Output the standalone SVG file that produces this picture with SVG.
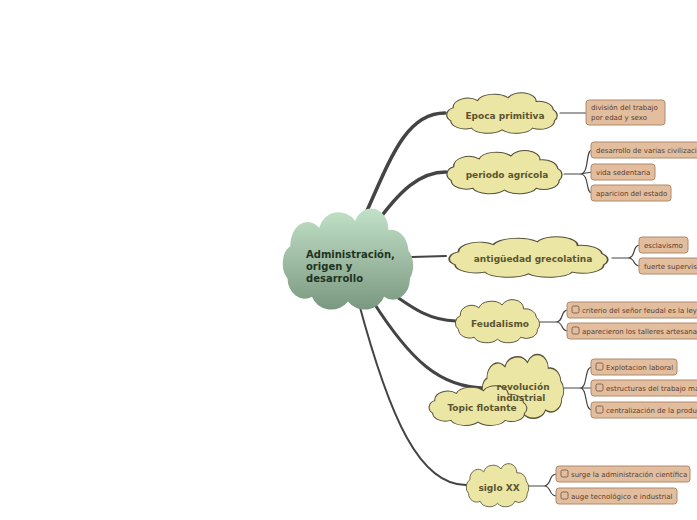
<svg xmlns="http://www.w3.org/2000/svg" xmlns:xlink="http://www.w3.org/1999/xlink" width="697" height="520" viewBox="0 0 697 520">
<defs>
<linearGradient id="g" x1="0" y1="0" x2="0" y2="1"><stop offset="0" stop-color="#c2e2c8"/><stop offset="1" stop-color="#7a9880"/></linearGradient>
<path id="cloud" d="M10,14 A12,10 0 0 1 30,6 A14,9 0 0 1 55,3 A12,9 0 0 1 78,7 A12,10 0 0 1 92,16 A8,8 0 0 1 93,28 A12,9 0 0 1 75,36 A14,8 0 0 1 50,38 A14,8 0 0 1 25,36 A12,9 0 0 1 8,28 A8,8 0 0 1 10,14 Z"/>
</defs>
<style>
.n{fill:#ece6a4;stroke:#55503a;stroke-width:1}
.c{fill:url(#g);stroke:none}
.t{font-family:"DejaVu Sans",sans-serif;font-weight:bold;font-size:9px;fill:#5a5530;text-anchor:middle}
.ct{font-family:"DejaVu Sans",sans-serif;font-weight:bold;font-size:10px;fill:#1f3322}
.l{fill:#e2bd9e;stroke:#b08a6a;stroke-width:1}
.lt{font-family:"DejaVu Sans",sans-serif;font-size:7px;fill:#5a4030}
.cb{fill:none;stroke:#6a5040;stroke-width:0.8}
.e{fill:none;stroke:#444;stroke-linecap:round}
</style>
<rect width="697" height="520" fill="#fff"/>
<g id="connectors">
<path class="e" stroke-width="3.5" d="M362,222 C390,160 405,113 445,113"/>
<path class="e" stroke-width="3.5" d="M375,225 C400,190 420,172 446,172"/>
<path class="e" stroke-width="2" d="M412,257 L446,256"/>
<path class="e" stroke-width="3" d="M390,292 C415,310 430,320 456,321"/>
<path class="e" stroke-width="3" d="M372,300 C410,360 440,388 486,388"/>
<path class="e" stroke-width="2" d="M358,300 C390,420 420,485 466,485"/>
<g stroke-width="1.2">
<path class="e" d="M560,113 L586,113"/>
<path class="e" d="M564,174 L580,174 C590,174 585,150 592,150 M580,174 L592,172 M580,174 C590,174 585,193 592,193"/>
<path class="e" d="M612,258 L628,258 C636,258 632,245 640,245 M628,258 C636,258 632,266 640,266"/>
<path class="e" d="M540,322 L556,322 C564,322 560,310 568,310 M556,322 C564,322 560,331 568,331"/>
<path class="e" d="M564,388 L580,388 C588,388 584,367 592,367 M580,388 L592,388 M580,388 C588,388 584,410 592,410"/>
<path class="e" d="M528,486 L544,486 C552,486 548,474 557,474 M544,486 C552,486 548,496 557,496"/>
</g>
</g>
<g id="center"><use href="#cloud" class="c" transform="translate(276,214) scale(1.44,2.3)"/>
<text class="ct" x="306" y="258">Administración,</text><text class="ct" x="306" y="270">origen y</text><text class="ct" x="306" y="282">desarrollo</text></g>
<g id="n1"><use href="#cloud" class="n" transform="translate(441,95) scale(1.22,0.92)"/><text class="t" x="505" y="119">Epoca primitiva</text></g>
<g id="n2"><use href="#cloud" class="n" transform="translate(441,153) scale(1.27,0.98)"/><text class="t" x="507" y="178">periodo agrícola</text></g>
<g id="n3"><use href="#cloud" class="n" transform="translate(441,239) scale(1.75,0.92)"/><text class="t" x="533" y="262">antigüedad grecolatina</text></g>
<g id="n4"><use href="#cloud" class="n" transform="translate(451,302) scale(0.93,0.98)"/><text class="t" x="500" y="327">Feudalismo</text></g>
<g id="n5"><use href="#cloud" class="n" transform="translate(478,358) scale(0.9,1.45)"/></g>
<g id="n6"><use href="#cloud" class="n" transform="translate(424,388) scale(1.08,0.9)"/><text class="t" x="482" y="411">Topic flotante</text></g>
<g id="n5-label"><text class="t" x="523" y="390">revolución</text><text class="t" x="521" y="401">industrial</text></g>
<g id="n7"><use href="#cloud" class="n" transform="translate(463,466) scale(0.69,0.98)"/><text class="t" x="499" y="491">siglo XX</text></g>
<g id="leaves">
<g><rect class="l" x="586" y="100" width="79" height="25" rx="3"/><text class="lt" x="591" y="110">división del trabajo</text><text class="lt" x="591" y="120">por edad y sexo</text></g>
<g><rect class="l" x="591" y="142" width="120" height="16" rx="3"/><text class="lt" x="596" y="153">desarrollo de varias civilizaciones</text></g>
<g><rect class="l" x="591" y="164" width="64" height="16" rx="3"/><text class="lt" x="596" y="175">vida sedentaria</text></g>
<g><rect class="l" x="591" y="185" width="80" height="16" rx="3"/><text class="lt" x="596" y="196">aparicion del estado</text></g>
<g><rect class="l" x="639" y="237" width="49" height="16" rx="3"/><text class="lt" x="644" y="248">esclavismo</text></g>
<g><rect class="l" x="639" y="258" width="80" height="16" rx="3"/><text class="lt" x="644" y="269">fuerte supervisión</text></g>
<g><rect class="l" x="567" y="302" width="140" height="16" rx="3"/><rect class="cb" x="572" y="306" width="7" height="7" rx="1.5"/><text class="lt" x="582" y="313">criterio del señor feudal es la ley</text></g>
<g><rect class="l" x="567" y="323" width="140" height="16" rx="3"/><rect class="cb" x="572" y="327" width="7" height="7" rx="1.5"/><text class="lt" x="582" y="334">aparecieron los talleres artesanales</text></g>
<g><rect class="l" x="591" y="359" width="86" height="16" rx="3"/><rect class="cb" x="596" y="363" width="7" height="7" rx="1.5"/><text class="lt" x="606" y="370">Explotacion laboral</text></g>
<g><rect class="l" x="591" y="380" width="120" height="16" rx="3"/><rect class="cb" x="596" y="384" width="7" height="7" rx="1.5"/><text class="lt" x="606" y="391">estructuras del trabajo manual</text></g>
<g><rect class="l" x="591" y="402" width="120" height="16" rx="3"/><rect class="cb" x="596" y="406" width="7" height="7" rx="1.5"/><text class="lt" x="606" y="413">centralización de la producción</text></g>
<g><rect class="l" x="556" y="466" width="134" height="16" rx="3"/><rect class="cb" x="561" y="470" width="7" height="7" rx="1.5"/><text class="lt" x="571" y="477">surge la administración científica</text></g>
<g><rect class="l" x="556" y="488" width="121" height="16" rx="3"/><rect class="cb" x="561" y="492" width="7" height="7" rx="1.5"/><text class="lt" x="571" y="499">auge tecnológico e industrial</text></g>
</g>
</svg>
